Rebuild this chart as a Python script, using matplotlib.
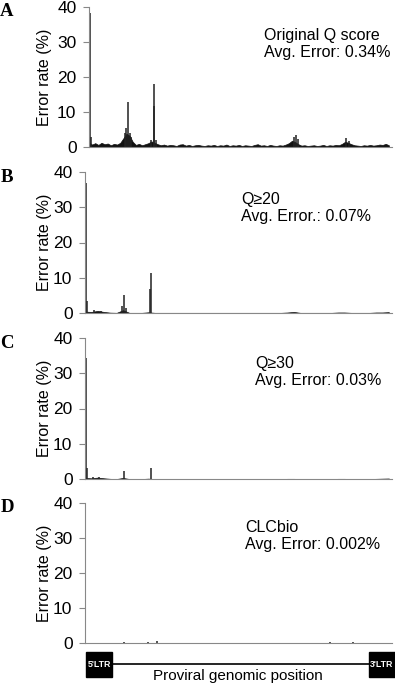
import numpy as np
import matplotlib.pyplot as plt
from matplotlib.patches import Rectangle

plt.rcParams['font.family'] = ['Liberation Sans', 'DejaVu Sans']

# genome length shown on the x axis (nt)
genome_len = 9700
pos_fine = np.arange(0, 9700, 100)
pos_coarse = np.arange(0, 9700, 200)

# panel A - original Q score
bg_a = [1.3, 0.7, 1.1, 0.6, 1.2, 0.8, 1.0, 0.5, 0.9, 0.7,
        1.2, 2.5, 3.8, 3.2, 1.5, 0.6, 0.9, 0.5, 0.8, 1.1,
        1.6, 1.2, 0.8, 0.5, 0.7, 0.4, 0.6, 0.5, 0.3, 0.7,
        0.8, 0.4, 0.6, 0.3, 0.5, 0.6, 0.4, 0.3, 0.5, 0.4,
        0.6, 0.3, 0.5, 0.4, 0.7, 0.3, 0.5, 0.4, 0.6, 0.3,
        0.5, 0.4, 0.3, 0.6, 0.8, 0.4, 0.5, 0.3, 0.6, 0.4,
        0.3, 0.5, 0.4, 0.7, 1.1, 1.8, 1.4, 0.8, 0.4, 0.5,
        0.3, 0.4, 0.5, 0.3, 0.4, 0.6, 0.3, 0.5, 0.4, 0.6,
        0.5, 0.9, 1.5, 1.2, 0.8, 0.5, 0.4, 0.3, 0.5, 0.4,
        0.6, 0.4, 0.5, 0.7, 0.6, 0.9, 0.5]
spike_pos_a = [40, 60, 1150, 1200, 1240, 1300, 1360, 2000, 2070, 2080, 2150,
               6550, 6620, 6680, 8230, 8330]
spike_val_a = [38.3, 3.0, 4.0, 5.5, 13.0, 4.0, 3.0, 2.0, 11.6, 18.0, 2.0,
               3.0, 3.4, 2.2, 2.5, 1.8]

# panel B - Q>=20
bg_b = [0.4, 0.3, 0.6, 0.3, 0.1, 0.05, 0.8, 0.05, 0.05, 0.05, 0.2, 0.05, 0.05,
        0.05, 0.05, 0.05, 0.05, 0.05, 0.05, 0.05, 0.05, 0.05, 0.05, 0.05, 0.05,
        0.05, 0.05, 0.05, 0.05, 0.05, 0.05, 0.05, 0.15, 0.3, 0.05, 0.05, 0.05,
        0.05, 0.05, 0.05, 0.15, 0.15, 0.05, 0.05, 0.05, 0.05, 0.15, 0.15, 0.25]
spike_pos_b = [40, 60, 300, 500, 1180, 1240, 1290, 2040, 2070]
spike_val_b = [36.9, 3.3, 0.8, 0.7, 2.0, 5.1, 1.5, 6.8, 11.4]

# panel C - Q>=30
bg_c = [0.3, 0.2, 0.4, 0.2, 0.05, 0.0, 0.3, 0.0, 0.0, 0.0, 0.1, 0.0, 0.0,
        0.0, 0.0, 0.0, 0.0, 0.0, 0.0, 0.0, 0.0, 0.0, 0.0, 0.0, 0.0, 0.0, 0.0,
        0.0, 0.0, 0.0, 0.0, 0.0, 0.05, 0.05, 0.0, 0.0, 0.0, 0.0, 0.0, 0.0,
        0.05, 0.05, 0.0, 0.0, 0.0, 0.0, 0.05, 0.1, 0.15]
spike_pos_c = [40, 60, 250, 450, 1240, 2070]
spike_val_c = [34.3, 3.0, 0.6, 0.7, 2.2, 3.0]

# panel D - CLCbio
bg_d = [0.0] * 49
spike_pos_d = [1232, 1990, 2275, 7740, 8470]
spike_val_d = [0.3, 0.3, 0.5, 0.3, 0.3]

panels = [
    ('A', pos_fine, bg_a, spike_pos_a, spike_val_a, 'Original Q score\nAvg. Error: 0.34%'),
    ('B', pos_coarse, bg_b, spike_pos_b, spike_val_b, 'Q\u226520\nAvg. Error.: 0.07%'),
    ('C', pos_coarse, bg_c, spike_pos_c, spike_val_c, 'Q\u226530\nAvg. Error: 0.03%'),
    ('D', pos_coarse, bg_d, spike_pos_d, spike_val_d, 'CLCbio\nAvg. Error: 0.002%'),
]

W, H = 395, 685
fig = plt.figure(figsize=(W / 100, H / 100), dpi=100)

# pixel boxes: left, right, top(40), bottom(0)
boxes = [(89, 392, 7, 147), (85, 392, 172, 313), (85, 392, 338, 479), (85, 392, 503, 643)]
text_xy = [(264, 44), (241, 208), (255, 372), (245, 536)]


def px(x, y):
    return x / W, 1 - y / H


for (letter, bp, bg, sp, sv, note), (l, r, t, b), (tx, ty) in zip(panels, boxes, text_xy):
    ax = fig.add_axes([l / W, 1 - b / H, (r - l) / W, (b - t) / H])
    ax.fill_between(bp, 0, bg, color='#111111', linewidth=0.5)
    ax.vlines(sp, 0, sv, color='#222222', linewidth=1.1)
    ax.set_xlim(0, genome_len)
    ax.set_ylim(0, 40)
    ax.set_yticks([0, 10, 20, 30, 40])
    ax.set_xticks([])
    for s in ['top', 'right']:
        ax.spines[s].set_visible(False)
    for s in ['left', 'bottom']:
        ax.spines[s].set_color('#888888')
    ax.tick_params(axis='y', direction='out', length=4, color='#888888',
                   labelsize=12.5, pad=5)
    fig.text(*px(45, (t + b) / 2), 'Error rate (%)', rotation=90,
             ha='center', va='center', fontsize=11.5)
    fig.text(*px(7, t + 5), letter, family='Liberation Serif', weight='bold',
             ha='center', va='center', fontsize=13.5)
    fig.text(*px(tx, ty), note, ha='left', va='center', fontsize=11.5,
             linespacing=1.15)

# genome map under the last panel
ov = fig.add_axes([0, 0, 1, 1])
ov.set_xlim(0, W)
ov.set_ylim(H, 0)
ov.axis('off')
ov.plot([112, 369], [664, 664], color='black', linewidth=1.2)
for x0, lab in [(86, "5'LTR"), (369, "3'LTR")]:
    ov.add_patch(Rectangle((x0, 652), 26, 25, color='black'))
    ov.text(x0 + 13, 664.5, lab, color='white', weight='bold', fontsize=6.3,
            ha='center', va='center')
ov.text(238, 676, 'Proviral genomic position', ha='center', va='center',
        fontsize=11)

fig.savefig('out.png', dpi=100)
